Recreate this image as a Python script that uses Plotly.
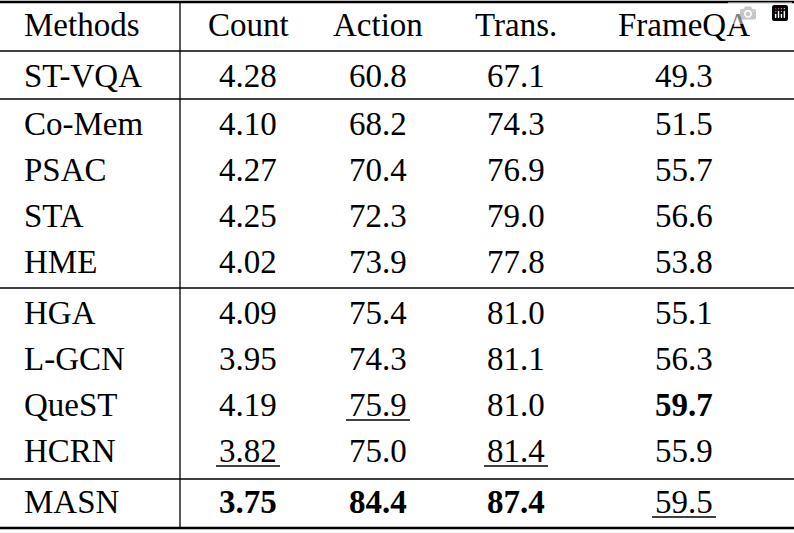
import plotly.graph_objects as go

headers = ["Methods", "Count", "Action", "Trans.", "FrameQA"]
methods = ["ST-VQA", "Co-Mem", "PSAC", "STA", "HME", "HGA", "L-GCN", "QueST", "HCRN", "MASN"]
count = ["4.28", "4.10", "4.27", "4.25", "4.02", "4.09", "3.95", "4.19", "3.82", "3.75"]
action = ["60.8", "68.2", "70.4", "72.3", "73.9", "75.4", "74.3", "75.9", "75.0", "84.4"]
trans = ["67.1", "74.3", "76.9", "79.0", "77.8", "81.0", "81.1", "81.0", "81.4", "87.4"]
frameqa = ["49.3", "51.5", "55.7", "56.6", "53.8", "55.1", "56.3", "59.7", "55.9", "59.5"]
bold = {(9, 1), (9, 2), (9, 3), (7, 4)}
underline = {(8, 1), (7, 2), (8, 3), (9, 4)}

W, H = 794, 533
col_x = [22, 248, 378, 516, 684]
row_y = [25, 76, 124, 170, 216, 262, 313, 359, 405, 451, 502]
hlines = [(2, 2.5), (51, 1.5), (99, 1.5), (288, 1.5), (479, 1.5), (528, 2.5)]
FONT = dict(family="Liberation Serif, Times New Roman, serif", size=33, color="black")

fig = go.Figure()
anns, shapes = [], []
for j, h in enumerate(headers):
    anns.append(dict(x=col_x[j], y=row_y[0], text=h, showarrow=False,
                     xanchor="left" if j == 0 else "center", yanchor="middle", font=FONT))
cols = [methods, count, action, trans, frameqa]
for i in range(len(methods)):
    for j in range(5):
        t = cols[j][i]
        if (i, j) in bold:
            t = "<b>" + t + "</b>"
        anns.append(dict(x=col_x[j], y=row_y[i + 1], text=t, showarrow=False,
                         xanchor="left" if j == 0 else "center", yanchor="middle", font=FONT))
        if (i, j) in underline:
            w = 32
            shapes.append(dict(type="line", x0=col_x[j] - w, x1=col_x[j] + w,
                               y0=row_y[i + 1] + 15, y1=row_y[i + 1] + 15,
                               line=dict(color="black", width=1.3)))
for y, lw in hlines:
    shapes.append(dict(type="line", x0=0, x1=W, y0=y, y1=y, line=dict(color="black", width=lw)))
shapes.append(dict(type="line", x0=180, x1=180, y0=hlines[0][0], y1=hlines[-1][0],
                   line=dict(color="black", width=1.3)))

fig.update_layout(width=W, height=H, margin=dict(l=0, r=0, t=0, b=0),
                  plot_bgcolor="white", paper_bgcolor="white",
                  xaxis=dict(range=[0, W], visible=False, fixedrange=True),
                  yaxis=dict(range=[H, 0], visible=False, fixedrange=True),
                  annotations=anns, shapes=shapes, showlegend=False)
fig.write_html("out.html", post_script="document.body.style.margin='0';")
